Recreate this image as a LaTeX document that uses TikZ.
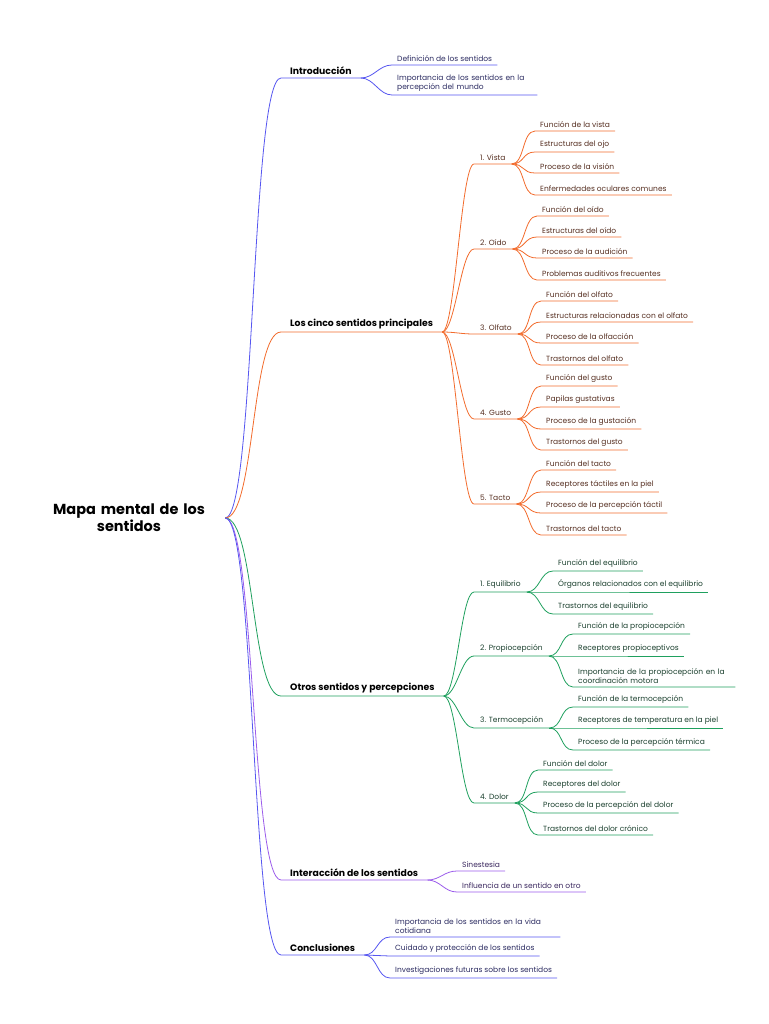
\documentclass[tikz,border=0pt]{standalone}
\usepackage{fontspec}
\setmainfont{Poppins}
\usepackage{tikz}
\definecolor{cblue}{HTML}{5656F0}
\definecolor{corange}{HTML}{F26B2C}
\definecolor{cgreen}{HTML}{1FA05E}
\definecolor{cpurple}{HTML}{9B5CEB}
\definecolor{tblue}{HTML}{2A2A60}
\definecolor{torange}{HTML}{552E20}
\definecolor{tgreen}{HTML}{1B402E}
\definecolor{tpurple}{HTML}{3A275E}
\tikzset{
  branch/.style={anchor=south west, inner xsep=9pt, inner ysep=3pt, font=\fontsize{9.3}{11}\selectfont\bfseries},
  sub/.style={anchor=south west, inner xsep=6pt, inner ysep=3pt, font=\fontsize{7.5}{9}\selectfont, text=#1},
  leaf/.style={anchor=south west, inner xsep=5pt, inner ysep=3pt, font=\fontsize{7.5}{9.5}\selectfont, align=left, text=#1},
  link/.style={line width=0.8pt, draw=#1},
  bend/.style={out=0, in=180, out distance=#1, in distance=#1},
  bend/.default=13pt,
}
\begin{document}
\begin{tikzpicture}[x=1pt,y=1pt]
\useasboundingbox (0,0) rectangle (768,-1024);

\node[font=\fontsize{14.5}{17}\selectfont\bfseries, align=center, text width=170pt, inner xsep=11pt] (root) at (129,-518) {Mapa mental de los\\sentidos};

% main branches
\node[branch] (intro) at (281,-78) {Introducción};
\node[branch] (cinco) at (281,-332) {Los cinco sentidos principales};
\node[branch] (otros) at (281,-696) {Otros sentidos y percepciones};
\node[branch] (inter) at (281,-880) {Interacción de los sentidos};
\node[branch] (concl) at (281,-955) {Conclusiones};
\foreach \b/\c in {intro/cblue,cinco/corange,otros/cgreen,inter/cpurple,concl/cblue}
  \draw[link=\c] (root.east) to[bend=30pt] (\b.south west) -- (\b.south east);

% Introduccion
\node[leaf=tblue] (intro1) at (392,-65) {Definición de los sentidos};
\node[leaf=tblue, text width=135pt] (intro2) at (392,-95) {Importancia de los sentidos en la\\percepción del mundo};
\foreach \n in {intro1,intro2}
  \draw[link=cblue] (intro.south east) to[bend] (\n.south west) -- (\n.south east);

% Los cinco sentidos
\foreach \n/\y/\t in {vista/164/1. Vista, oido/249/2. Oído, olfato/334/3. Olfato, gusto/419/4. Gusto, tacto/504/5. Tacto}{
  \node[sub=torange] (\n) at (474,-\y) {\t};
  \draw[link=corange] (cinco.south east) to[bend] (\n.south west) -- (\n.south east);
}
\foreach \p/\x/\ya/\yb/\yc/\yd/\ta/\tb/\tc/\td in {
  vista/535/131/152/173/195/Función de la vista/Estructuras del ojo/Proceso de la visión/Enfermedades oculares comunes,
  oido/537/216/237/258/280/Función del oído/Estructuras del oído/Proceso de la audición/Problemas auditivos frecuentes,
  olfato/541/301/322/343/365/Función del olfato/Estructuras relacionadas con el olfato/Proceso de la olfacción/Trastornos del olfato,
  gusto/541/386/407/429/450/Función del gusto/Papilas gustativas/Proceso de la gustación/Trastornos del gusto,
  tacto/541/470/492/513/535/Función del tacto/Receptores táctiles en la piel/Proceso de la percepción táctil/Trastornos del tacto}{
  \node[leaf=torange] (\p1) at (\x,-\ya) {\ta};
  \node[leaf=torange] (\p2) at (\x,-\yb) {\tb};
  \node[leaf=torange] (\p3) at (\x,-\yc) {\tc};
  \node[leaf=torange] (\p4) at (\x,-\yd) {\td};
  \foreach \k in {1,...,4}
    \draw[link=corange] (\p.south east) to[bend] (\p\k.south west) -- (\p\k.south east);
}

% Otros sentidos
\foreach \n/\y/\t in {equil/592/1. Equilibrio, propio/656/2. Propiocepción, termo/728/3. Termocepción, dolor/803/4. Dolor}{
  \node[sub=tgreen] (\n) at (474,-\y) {\t};
  \draw[link=cgreen] (otros.south east) to[bend] (\n.south west) -- (\n.south east);
}
\node[leaf=tgreen] (equil1) at (553,-571) {Función del equilibrio};
\node[leaf=tgreen] (equil2) at (553,-592) {Órganos relacionados con el equilibrio};
\node[leaf=tgreen] (equil3) at (553,-614) {Trastornos del equilibrio};
\node[leaf=tgreen] (propio1) at (573,-634) {Función de la propiocepción};
\node[leaf=tgreen] (propio2) at (573,-656) {Receptores propioceptivos};
\node[leaf=tgreen, text width=152pt] (propio3) at (573,-687) {Importancia de la propiocepción en la\\coordinación motora};
\node[leaf=tgreen] (termo1) at (573,-707) {Función de la termocepción};
\node[leaf=tgreen] (termo2) at (573,-728) {Receptores de temperatura en la piel};
\node[leaf=tgreen] (termo3) at (573,-750) {Proceso de la percepción térmica};
\node[leaf=tgreen] (dolor1) at (538,-770) {Función del dolor};
\node[leaf=tgreen] (dolor2) at (538,-792) {Receptores del dolor};
\node[leaf=tgreen] (dolor3) at (538,-813) {Proceso de la percepción del dolor};
\node[leaf=tgreen] (dolor4) at (538,-835) {Trastornos del dolor crónico};
\foreach \p/\m in {equil/3,propio/3,termo/3,dolor/4}
  \foreach \k in {1,...,\m}
    \draw[link=cgreen] (\p.south east) to[bend] (\p\k.south west) -- (\p\k.south east);

% Interaccion
\node[leaf=tpurple] (inter1) at (457,-871) {Sinestesia};
\node[leaf=tpurple] (inter2) at (457,-892) {Influencia de un sentido en otro};
\foreach \n in {inter1,inter2}
  \draw[link=cpurple] (inter.south east) to[bend] (\n.south west) -- (\n.south east);

% Conclusiones
\node[leaf=tblue, text width=160pt] (concl1) at (390,-937) {Importancia de los sentidos en la vida\\cotidiana};
\node[leaf=tblue] (concl2) at (390,-956) {Cuidado y protección de los sentidos};
\node[leaf=tblue] (concl3) at (390,-978) {Investigaciones futuras sobre los sentidos};
\foreach \n in {concl1,concl2,concl3}
  \draw[link=cblue] (concl.south east) to[bend] (\n.south west) -- (\n.south east);
\end{tikzpicture}
\end{document}
